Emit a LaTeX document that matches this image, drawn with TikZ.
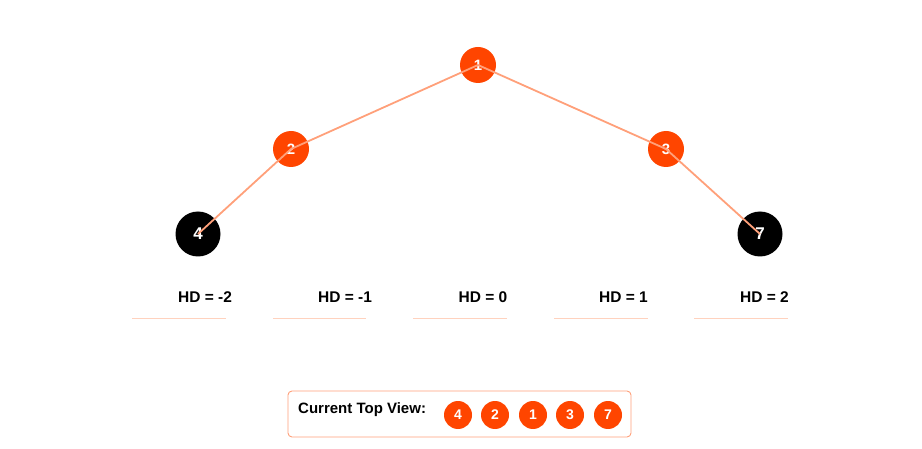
\documentclass[tikz,border=0pt]{standalone}
\usepackage{fontspec}
\setmainfont{Liberation Sans}
\definecolor{nodeor}{HTML}{FF4500}
\definecolor{edgeor}{HTML}{FFA07A}
\definecolor{lineor}{HTML}{FFD2BE}
\tikzset{
  x=1pt,y=-1pt,
  tnode/.style={circle,fill=nodeor,minimum size=36pt,inner sep=0pt,text=white,font=\bfseries\fontsize{15}{17}\selectfont},
  leafnode/.style={circle,fill=black,minimum size=45pt,inner sep=0pt,text=white,font=\bfseries\fontsize{17}{19}\selectfont},
  tedge/.style={draw=edgeor,line width=1.8pt},
  hdlabel/.style={anchor=center,inner sep=0pt,text height=11pt,text depth=0pt,font=\bfseries\fontsize{15.5}{17}\selectfont},
  hdline/.style={draw=lineor,line width=0.8pt},
  vnode/.style={circle,fill=nodeor,minimum size=28pt,inner sep=0pt,text=white,font=\bfseries\fontsize{14}{16}\selectfont},
  vbox/.style={draw=edgeor,line width=0.9pt,rounded corners=4pt}
}
\begin{document}
\begin{tikzpicture}
\useasboundingbox (0,0) rectangle (922,449);
% tree nodes
\node[tnode] (n1) at (478,65) {1};
\node[tnode] (n2) at (291,149) {2};
\node[tnode] (n3) at (666,149) {3};
\node[leafnode] (n4) at (198,234) {4};
\node[leafnode] (n7) at (760,234) {7};
% edges over nodes
\draw[tedge] (n1.center) -- (n2.center);
\draw[tedge] (n1.center) -- (n3.center);
\draw[tedge] (n2.center) -- (n4.center);
\draw[tedge] (n3.center) -- (n7.center);
% HD labels
\foreach \i/\t/\xc/\xl/\xr in {a/-2/205/132/226, b/-1/345/273/366, c/0/483/413/507, d/1/623.5/554/648, e/2/764.5/694/788}{
  \node[hdlabel] (hd\i) at (\xc,297) {HD = \t};
  \coordinate (l\i) at (\xl,318);
  \coordinate (r\i) at (\xr,318);
  \draw[hdline] (l\i) -- (r\i);
}
% top view box
\node[vbox,minimum width=343pt,minimum height=46pt,inner sep=0pt] (box) at (459.5,414) {};
\node[anchor=west,inner sep=0pt,font=\bfseries\fontsize{15}{17}\selectfont] (cap) at (298,410) {Current Top View:};
\node[vnode] (v4) at (458,415) {4};
\node[vnode] (v2) at (495,415) {2};
\node[vnode] (v1) at (533,415) {1};
\node[vnode] (v3) at (570,415) {3};
\node[vnode] (v7) at (608,415) {7};
\end{tikzpicture}
\end{document}
